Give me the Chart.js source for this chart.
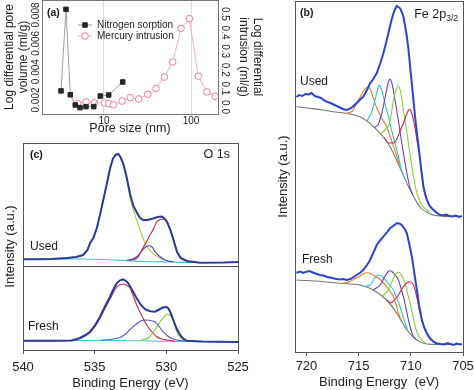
<!DOCTYPE html>
<html>
<head>
<meta charset="utf-8">
<script src="https://cdn.jsdelivr.net/npm/chart.js@4.4.1/dist/chart.umd.min.js"></script>
<style>
  html, body { margin: 0; padding: 0; background: #fff; }
  body { width: 474px; height: 390px; position: relative; overflow: hidden; }
  .box { position: absolute; }
</style>
</head>
<body>
<div class="box" style="left:0;top:0;width:270px;height:140px"><canvas id="poreChart"></canvas></div>
<div class="box" style="left:270px;top:0;width:204px;height:390px"><canvas id="feChart"></canvas></div>
<div class="box" style="left:0;top:140px;width:250px;height:250px"><canvas id="oChart"></canvas></div>
<script>
// ---- (a) pore size distribution ----
const nitrogenSize   = [3.21, 3.66, 4.10, 4.68, 5.30, 6.21, 7.62, 9.07, 11.33, 16.4];
const nitrogenVolume = [0.00264, 0.0084, 0.00237, 0.00165, 0.00146, 0.00153, 0.00153, 0.00228, 0.00235, 0.00327];
const mercurySize      = [4.99, 6.21, 7.74, 10.1, 11.3, 12.8, 16.1, 20.0, 25.1, 31.8, 39.6, 49.3, 61.5, 76.7, 95.5, 121, 152, 189];
const mercuryIntrusion = [0.018, 0.028, 0.022, 0.022, 0.018, 0.012, 0.032, 0.05, 0.043, 0.068, 0.10, 0.161, 0.242, 0.423, 0.475, 0.165, 0.081, 0.058];
const poreTicks = [10, 100];
const volumeTicks = [0.002, 0.004, 0.006, 0.008];
const intrusionTicks = [0, 0.1, 0.2, 0.3, 0.4, 0.5];

// ---- (b) Fe 2p3/2, [binding energy eV, intensity a.u.] ----
const feTicks = [720, 715, 710, 705];
const feUsedData = [[720.96,255],[720.7,257],[720.4,256],[720.1,258],[719.8,257.5],[719.5,259],[719.2,256],[718.9,255],[718.6,254],[718.3,251.5],[718.0,250],[717.7,249],[717.4,247.5],[717.1,246],[716.8,244.5],[716.5,243],[716.2,242],[715.9,243],[715.6,245],[715.3,248],[715.0,251],[714.56,255.3],[714.2,262],[713.91,268.7],[713.6,273],[713.27,278.7],[712.95,288],[712.63,298.7],[712.4,308],[712.15,318.7],[711.9,330],[711.67,338.7],[711.5,343],[711.35,346],[711.2,345],[711.03,343.7],[710.87,340],[710.71,335.3],[710.55,326],[710.38,315.3],[710.2,300],[710.07,285.3],[709.9,268],[709.75,252],[709.6,236],[709.42,219],[709.25,205],[709.11,192],[708.95,178],[708.79,165.3],[708.6,157],[708.46,152],[708.2,146],[707.83,142],[707.5,139],[707.18,137],[706.9,136.5],[706.6,137.5],[706.3,136],[706.0,135.5],[705.7,136.5],[705.4,135],[705.1,136]];
const feUsedBackground = [[720.96,245.3],[719.5,243.5],[718.4,242],[717.2,240],[716.15,238.7],[714.88,235.3],[713.91,228.7],[712.95,218.7],[711.99,205.3],[711.03,184],[710.07,162],[709.11,145],[708.15,138],[707.18,136],[705.1,135.5]];
const feUsedOrange = [[716.15,238.7],[715.6,241],[715.26,247],[714.9,254],[714.6,260],[714.35,263.5],[714.13,264.7],[713.9,263],[713.6,254],[713.3,245],[712.95,237],[712.63,231],[712.31,225],[711.99,216],[711.67,206],[711.35,196],[711.03,184]];
const feUsedCyan = [[714.2,231],[713.75,240],[713.43,252],[713.2,262],[713.02,267],[712.85,264],[712.63,255.3],[712.4,245],[712.15,235.3],[711.85,222],[711.51,208.7],[711.2,196],[710.93,183],[710.6,174]];
const feUsedPurple = [[713.5,224.5],[713.1,228],[712.79,238.7],[712.55,250],[712.38,259],[712.15,270],[711.99,273],[711.8,268],[711.51,252],[711.3,238],[711.1,225.3],[710.9,211],[710.71,199],[710.4,180],[710.07,164],[709.8,157]];
const feUsedGreen = [[712.9,218],[712.5,222],[712.15,226],[711.9,236],[711.67,252],[711.4,263],[711.19,266.3],[711.0,261],[710.71,242],[710.45,225],[710.23,208.7],[710.0,192],[709.75,175.3],[709.45,160],[709.11,150],[708.8,145],[708.46,142],[708.15,138]];
const feUsedRed = [[712.6,215],[712.1,209],[711.67,209],[711.3,214],[711.0,222],[710.71,228.7],[710.4,238],[710.13,242.7],[709.95,240],[709.75,232],[709.6,224],[709.42,212],[709.25,202],[709.11,192],[708.95,178],[708.79,165.3],[708.6,156],[708.34,149],[708.1,144.5],[707.83,142],[707.5,139],[707.18,137],[706.5,136],[705.1,135.5]];
const feFreshData = [[720.96,79.3],[720.6,80.5],[720.3,79],[720.0,80.3],[719.7,81],[719.4,79.5],[719.0,78],[718.72,77],[718.4,76.5],[718.0,75],[717.7,74.5],[717.44,73.7],[717.1,73],[716.8,72.5],[716.5,73],[716.15,72],[715.8,73],[715.52,74.7],[715.2,77],[714.9,79],[714.56,82],[714.2,87],[713.91,92],[713.6,99],[713.27,107],[712.95,111.5],[712.63,115.3],[712.3,119.5],[711.99,123.7],[711.7,126],[711.35,128.7],[711.1,128.5],[710.87,127],[710.6,123.5],[710.38,118.7],[710.15,108],[709.9,95.3],[709.65,78],[709.42,62],[709.2,46],[708.94,32],[708.7,24],[708.46,18.7],[708.15,13.5],[707.83,10.3],[707.5,8.5],[707.18,8],[706.8,7.5],[706.5,9],[706.2,8],[705.9,7],[705.6,8.5],[705.3,7.5],[705.1,8]];
const feFreshBackground = [[720.96,72],[718.5,70.5],[716.82,68.7],[714.88,67],[713.6,62],[712.31,52],[711.35,38.7],[710.38,22],[709.42,12],[708.46,8],[707.5,7.5],[705.1,7.5]];
const feFreshOrange = [[716.5,68.5],[715.84,70.5],[715.3,73.5],[714.88,76],[714.5,78.5],[714.13,79.3],[713.8,78],[713.12,73.7],[712.7,70],[712.31,65.3],[711.99,60.5],[711.67,55.3],[711.4,47],[711.19,39],[710.9,31]];
const feFreshCyan = [[714.5,65.5],[713.91,67],[713.52,73],[713.12,77],[712.8,76],[712.31,70.3],[711.99,66.5],[711.67,62],[711.35,54],[711.03,45.3],[710.8,37],[710.55,29],[710.3,21]];
const feFreshPurple = [[713.6,62],[712.95,67],[712.47,76],[712.2,80],[711.99,81.3],[711.7,79.5],[711.19,72],[710.95,64],[710.71,55.3],[710.45,43],[710.23,32],[709.95,21],[709.75,15.3],[709.5,12.5]];
const feFreshGreen = [[712.75,56],[712.15,62],[711.9,68],[711.67,73.7],[711.35,79],[711.13,79.7],[710.85,76],[710.55,68.7],[710.3,58],[710.07,48.7],[709.8,36],[709.59,25.3],[709.3,17],[708.94,12],[708.6,9]];
const feFreshRed = [[712.31,52],[711.9,49],[711.58,52],[711.2,57],[710.71,65.3],[710.35,69.5],[710.07,70.3],[709.8,68],[709.59,62],[709.35,51],[709.11,38.7],[708.85,29],[708.63,22],[708.3,15],[707.83,10.3],[707.18,8],[706,7.5]];

// ---- (c) O 1s ----
const oTicks = [540, 535, 530, 525];
const oUsedData = [[540,90.7],[539,90.8],[538,91],[537.5,91.5],[536.93,92],[536.3,93],[535.81,95],[535.5,100],[535.32,107],[535.09,112],[534.85,122],[534.63,135],[534.4,150],[534.14,167],[533.92,182],[533.72,191.5],[533.5,195.5],[533.35,196],[533.2,193],[533.02,187],[532.8,175],[532.53,156],[532.3,144],[532.04,137],[531.85,132.5],[531.63,130],[531.3,130],[530.93,131.5],[530.6,133],[530.3,133.5],[530.1,131],[529.95,128],[529.74,121],[529.5,110],[529.25,98],[529.0,92],[528.56,89],[527.65,87.3],[526,87.5],[525,88]];
const oUsedBackground = [[540,90.5],[536,91],[534.5,90.5],[533,89.5],[531.5,88.5],[530,88],[528,87.5],[525,87.5]];
const oUsedGreen = [[540,90.7],[537.5,91.5],[536.3,93],[535.81,95],[535.32,106.5],[534.85,121.5],[534.63,134.5],[534.14,166.5],[533.72,191],[533.35,195],[533.02,186],[532.8,173],[532.53,152],[532.3,140],[532.0,127],[531.6,111],[531.37,104],[531.1,99],[530.8,95],[530.44,92],[530.0,89.5],[529.5,88.3]];
const oUsedPurple = [[532.8,89.5],[532.3,91.5],[532.0,94],[531.84,96.7],[531.6,101],[531.4,103.5],[531.21,104.3],[531.0,103],[530.79,98.3],[530.5,94],[530.21,91],[529.9,89],[529.5,88.2]];
const oUsedRed = [[532.6,89.5],[532.04,92],[531.85,96],[531.63,102],[531.4,108],[531.14,115],[530.9,121],[530.72,127],[530.45,130.5],[530.23,131],[530.0,128.5],[529.74,121.5],[529.5,110],[529.25,98],[529.0,92],[528.56,89],[528,87.7]];
const oFreshData = [[540,9.3],[538,9.3],[536.6,9.5],[536.02,12],[535.7,14.5],[535.32,18.3],[535.0,24],[534.63,33.3],[534.3,43],[533.93,53.3],[533.7,60.5],[533.46,66.7],[533.25,69.5],[533.04,70.7],[532.85,69.5],[532.65,66.7],[532.35,59],[532.07,51.7],[531.8,45.5],[531.5,41],[531.37,40],[531.1,38.7],[530.79,38.3],[530.5,40.5],[530.21,42.7],[530.0,43],[529.86,41.7],[529.7,37],[529.51,30],[529.3,22],[529.04,15],[528.8,11],[528.58,9.3],[527.5,8.5],[525,8]];
const oFreshBackground = [[540,9.3],[536,9.5],[533,9.5],[531,9],[529,8.5],[525,8]];
const oFreshRed = [[540,9.3],[537,9.4],[536.02,11.5],[535.32,17.5],[534.63,31.5],[534.3,41],[533.93,51],[533.46,63],[533.2,65.5],[533.0,66],[532.8,65],[532.53,62],[532.3,54],[532.07,45],[531.7,34],[531.37,25],[531.0,18],[530.67,13.3],[530.3,11],[529.97,10],[529.4,9]];
const oFreshPurple = [[534.6,9.8],[533.93,10.5],[533.5,11.5],[533.23,12.5],[532.9,15.5],[532.6,19.5],[532.32,23.3],[532.0,27],[531.7,29.5],[531.37,30],[531.1,29.5],[530.79,28],[530.5,23.5],[530.23,18.3],[529.9,14],[529.6,11.5],[529.27,10],[528.7,9]];
const oFreshGreen = [[531.84,9.3],[531.55,10.5],[531.28,12],[530.95,17],[530.58,25],[530.4,29],[530.23,32],[530.05,35],[529.9,35.7],[529.75,35],[529.6,32],[529.45,26],[529.27,18.3],[529.05,13],[528.81,10],[528.35,8.6]];
const oPanelSplit = 84; // level of the line between the two O 1s spectra

Chart.defaults.font.family = '"Liberation Sans", Arial, sans-serif';
Chart.defaults.color = '#222';
Chart.defaults.animation = false;
Chart.defaults.devicePixelRatio = 1;
Chart.defaults.responsive = true;
Chart.defaults.maintainAspectRatio = false;
Chart.defaults.plugins.legend.display = false;
Chart.defaults.plugins.tooltip.enabled = false;

const toXY = (xs, ys) => xs.map((x, i) => ({x: x, y: ys[i]}));
const pairs = arr => arr.map(p => ({x: p[0], y: p[1]}));
const fixTicks = vals => (scale) => { scale.ticks = vals.map(v => ({value: v})); };

const framePlugin = {
  id: 'frame',
  afterDatasetsDraw(chart, args, o) {
    const {ctx, chartArea: a} = chart;
    ctx.save();
    ctx.strokeStyle = o.color;
    ctx.lineWidth = 1;
    ctx.strokeRect(Math.round(a.left) + 0.5, Math.round(a.top) + 0.5, Math.round(a.right - a.left), Math.round(a.bottom - a.top));
    ctx.restore();
  }
};

const notesPlugin = {
  id: 'notes',
  afterDraw(chart, args, o) {
    const {ctx, chartArea: a} = chart;
    o.items.forEach(n => {
      ctx.save();
      ctx.fillStyle = '#1a1a1a';
      ctx.textBaseline = 'middle';
      ctx.textAlign = 'left';
      ctx.font = n.font;
      let w = ctx.measureText(n.text).width;
      let sw = 0;
      if (n.sub) { ctx.font = n.subFont; sw = ctx.measureText(n.sub).width; ctx.font = n.font; }
      let x = n.right !== undefined ? a.right - n.right - w - sw : a.left + n.dx;
      const y = a.top + n.dy;
      ctx.fillText(n.text, x, y);
      if (n.sub) { ctx.font = n.subFont; ctx.fillText(n.sub, x + w, y + 4); }
      ctx.restore();
    });
  }
};

const insideLegend = {
  id: 'insideLegend',
  afterDraw(chart, args, o) {
    const {ctx, chartArea: a} = chart;
    chart.data.datasets.forEach((ds, i) => {
      const x = a.left + o.dx;
      const y = a.top + o.dy + i * o.rowGap;
      ctx.save();
      ctx.strokeStyle = ds.borderColor;
      ctx.lineWidth = ds.borderWidth;
      ctx.beginPath();
      ctx.moveTo(x - o.lineLen / 2, y);
      ctx.lineTo(x + o.lineLen / 2, y);
      ctx.stroke();
      ctx.fillStyle = ds.pointBackgroundColor;
      ctx.strokeStyle = ds.pointBorderColor;
      ctx.lineWidth = ds.pointBorderWidth;
      Chart.helpers.drawPoint(ctx, {pointStyle: ds.pointStyle, radius: ds.pointRadius, rotation: 0, borderWidth: ds.pointBorderWidth}, x, y);
      ctx.font = o.font;
      ctx.fillStyle = '#222';
      ctx.textAlign = 'left';
      ctx.textBaseline = 'middle';
      ctx.fillText(ds.label, x + o.textGap, y);
      ctx.restore();
    });
  }
};

const noPad = s => { s.paddingTop = 0; s.paddingBottom = 0; };
const noSidePad = s => { s.paddingLeft = 0; s.paddingRight = 0; };

// ---------- (a) ----------
new Chart(document.getElementById('poreChart'), {
  type: 'line',
  data: {
    datasets: [{
      label: 'Nitrogen sorption',
      data: toXY(nitrogenSize, nitrogenVolume),
      yAxisID: 'y',
      borderColor: '#a0a0a0',
      borderWidth: 1,
      pointStyle: 'rect',
      pointRadius: 3.2,
      pointBackgroundColor: '#262626',
      pointBorderColor: '#262626',
      pointBorderWidth: 1
    }, {
      label: 'Mercury intrusion',
      data: toXY(mercurySize, mercuryIntrusion),
      yAxisID: 'y1',
      borderColor: '#f5aec6',
      borderWidth: 1,
      pointStyle: 'circle',
      pointRadius: 3.3,
      pointBackgroundColor: '#fff',
      pointBorderColor: '#ef7aa0',
      pointBorderWidth: 1
    }]
  },
  options: {
    layout: {padding: 0, autoPadding: false},
    plugins: {
      frame: {color: '#777'},
      notes: {items: [{text: '(a)', font: 'bold 10.5px "Liberation Sans", Arial', dx: 5, dy: 13}]},
      insideLegend: {dx: 43, dy: 25, rowGap: 11, lineLen: 14, textGap: 12, font: '10px "Liberation Sans", Arial'}
    },
    scales: {
      x: {
        type: 'logarithmic', min: 1.94, max: 204,
        afterBuildTicks: fixTicks(poreTicks),
        afterFit: s => { s.height = 26; noSidePad(s); },
        ticks: {font: {size: 10}, padding: 1, callback: v => String(v)},
        grid: {color: '#dcdcdc', drawTicks: false},
        border: {display: false},
        title: {display: true, text: 'Pore size (nm)', font: {size: 12.5, lineHeight: 1}, padding: {top: 0, bottom: 5}}
      },
      y: {
        position: 'left', min: 0.00101, max: 0.00906,
        afterBuildTicks: fixTicks(volumeTicks),
        afterFit: s => { s.width = 42; noPad(s); },
        ticks: {minRotation: 90, maxRotation: 90, crossAlign: 'center', padding: -15, font: {size: 10}, callback: v => v.toFixed(3)},
        grid: {display: false},
        border: {display: false},
        title: {display: true, text: ['Log differential pore', 'volume (ml/g)'], font: {size: 12, lineHeight: 1.1}, padding: {top: 3.4, bottom: 0}}
      },
      y1: {
        position: 'right', min: -0.0376, max: 0.575,
        afterBuildTicks: fixTicks(intrusionTicks),
        afterFit: s => { s.width = 52; noPad(s); },
        ticks: {minRotation: -90, maxRotation: -90, crossAlign: 'center', padding: -8, font: {size: 10}, callback: v => v.toFixed(1)},
        grid: {display: false},
        border: {display: false},
        title: {display: true, text: ['Log differential', 'intrusion (ml/g)'], font: {size: 12, lineHeight: 1.15}, padding: {top: 6, bottom: 0}}
      }
    }
  },
  plugins: [framePlugin, notesPlugin, insideLegend]
});

// ---------- (b) ----------
const comp = (d, color) => ({data: pairs(d), borderColor: color, borderWidth: 1.1, pointRadius: 0, cubicInterpolationMode: 'monotone'});
const raw = (d, color) => ({data: pairs(d), borderColor: color, borderWidth: 2, pointRadius: 0, tension: 0});

new Chart(document.getElementById('feChart'), {
  type: 'line',
  data: {
    datasets: [
      raw(feUsedData, '#2b44d0'),
      raw(feFreshData, '#2b44d0'),
      comp(feUsedRed, '#c8264a'), comp(feUsedGreen, '#86d236'), comp(feUsedPurple, '#6a3fc8'),
      comp(feUsedCyan, '#2cc3cf'), comp(feUsedOrange, '#f07a28'), comp(feUsedBackground, '#6e7a6e'),
      comp(feFreshRed, '#c8264a'), comp(feFreshGreen, '#86d236'), comp(feFreshPurple, '#6a3fc8'),
      comp(feFreshCyan, '#2cc3cf'), comp(feFreshOrange, '#f07a28'), comp(feFreshBackground, '#6e7a6e')
    ]
  },
  options: {
    layout: {padding: {top: 1, right: 11, left: 0, bottom: 0}, autoPadding: false},
    plugins: {
      frame: {color: '#555'},
      notes: {items: [
        {text: '(b)', font: 'bold 10.5px "Liberation Sans", Arial', dx: 5, dy: 12},
        {text: 'Fe 2p', sub: '3/2', font: '12.5px "Liberation Sans", Arial', subFont: '8.5px "Liberation Sans", Arial', right: 5, dy: 14},
        {text: 'Used', font: '12px "Liberation Sans", Arial', dx: 5, dy: 81},
        {text: 'Fresh', font: '12px "Liberation Sans", Arial', dx: 7, dy: 259}
      ]}
    },
    scales: {
      x: {
        type: 'linear', reverse: true, min: 705, max: 721.1,
        afterBuildTicks: fixTicks(feTicks),
        afterFit: s => { s.height = 38; noSidePad(s); },
        ticks: {font: {size: 13}, padding: 3, callback: v => String(v)},
        grid: {drawOnChartArea: false, drawTicks: true, tickLength: 4, color: '#555'},
        border: {display: false},
        title: {display: true, text: 'Binding Energy  (eV)', font: {size: 13, lineHeight: 1}, padding: {top: 0, bottom: 1.5}}
      },
      y: {
        min: 0, max: 351,
        afterFit: s => { s.width = 25; noPad(s); },
        ticks: {display: false},
        grid: {display: false},
        border: {display: false},
        title: {display: true, text: 'Intensity (a.u.)', font: {size: 13, lineHeight: 1}, padding: {top: 6.5, bottom: 0}}
      }
    }
  },
  plugins: [framePlugin, notesPlugin]
});

// ---------- (c) ----------
new Chart(document.getElementById('oChart'), {
  type: 'line',
  data: {
    datasets: [
      raw(oUsedData, '#2c3a9c'),
      raw(oFreshData, '#2c3a9c'),
      comp(oUsedRed, '#c32a52'), comp(oUsedPurple, '#5b40c4'), comp(oUsedGreen, '#9fd043'), comp(oUsedBackground, '#43c3d6'),
      comp(oFreshGreen, '#7fd022'), comp(oFreshPurple, '#6650d0'), comp(oFreshRed, '#c32a4a'), comp(oFreshBackground, '#43c3d6')
    ]
  },
  options: {
    layout: {padding: {top: 3, right: 12, left: 0, bottom: 0}, autoPadding: false},
    plugins: {
      frame: {color: '#555'},
      notes: {items: [
        {text: '(c)', font: 'bold 10.5px "Liberation Sans", Arial', dx: 7, dy: 12},
        {text: 'O 1s', font: '12.5px "Liberation Sans", Arial', right: 8, dy: 12},
        {text: 'Used', font: '12px "Liberation Sans", Arial', dx: 7, dy: 104},
        {text: 'Fresh', font: '12px "Liberation Sans", Arial', dx: 5, dy: 184}
      ]}
    },
    scales: {
      x: {
        type: 'linear', reverse: true, min: 525, max: 540,
        afterBuildTicks: fixTicks(oTicks),
        afterFit: s => { s.height = 40; noSidePad(s); },
        ticks: {font: {size: 13}, padding: 6, callback: v => String(v)},
        grid: {drawOnChartArea: false, drawTicks: true, tickLength: 4, color: '#555'},
        border: {display: false},
        title: {display: true, text: 'Binding Energy (eV)', font: {size: 13, lineHeight: 1}, padding: {top: 0, bottom: 0.5}}
      },
      y: {
        min: 0, max: 207,
        afterBuildTicks: fixTicks([oPanelSplit]),
        afterFit: s => { s.width = 23; noPad(s); },
        ticks: {display: false},
        grid: {display: true, drawTicks: false, color: '#555'},
        border: {display: false},
        title: {display: true, text: 'Intensity (a.u.)', font: {size: 13, lineHeight: 1}, padding: {top: 3.5, bottom: 0}}
      }
    }
  },
  plugins: [framePlugin, notesPlugin]
});
</script>
</body>
</html>
